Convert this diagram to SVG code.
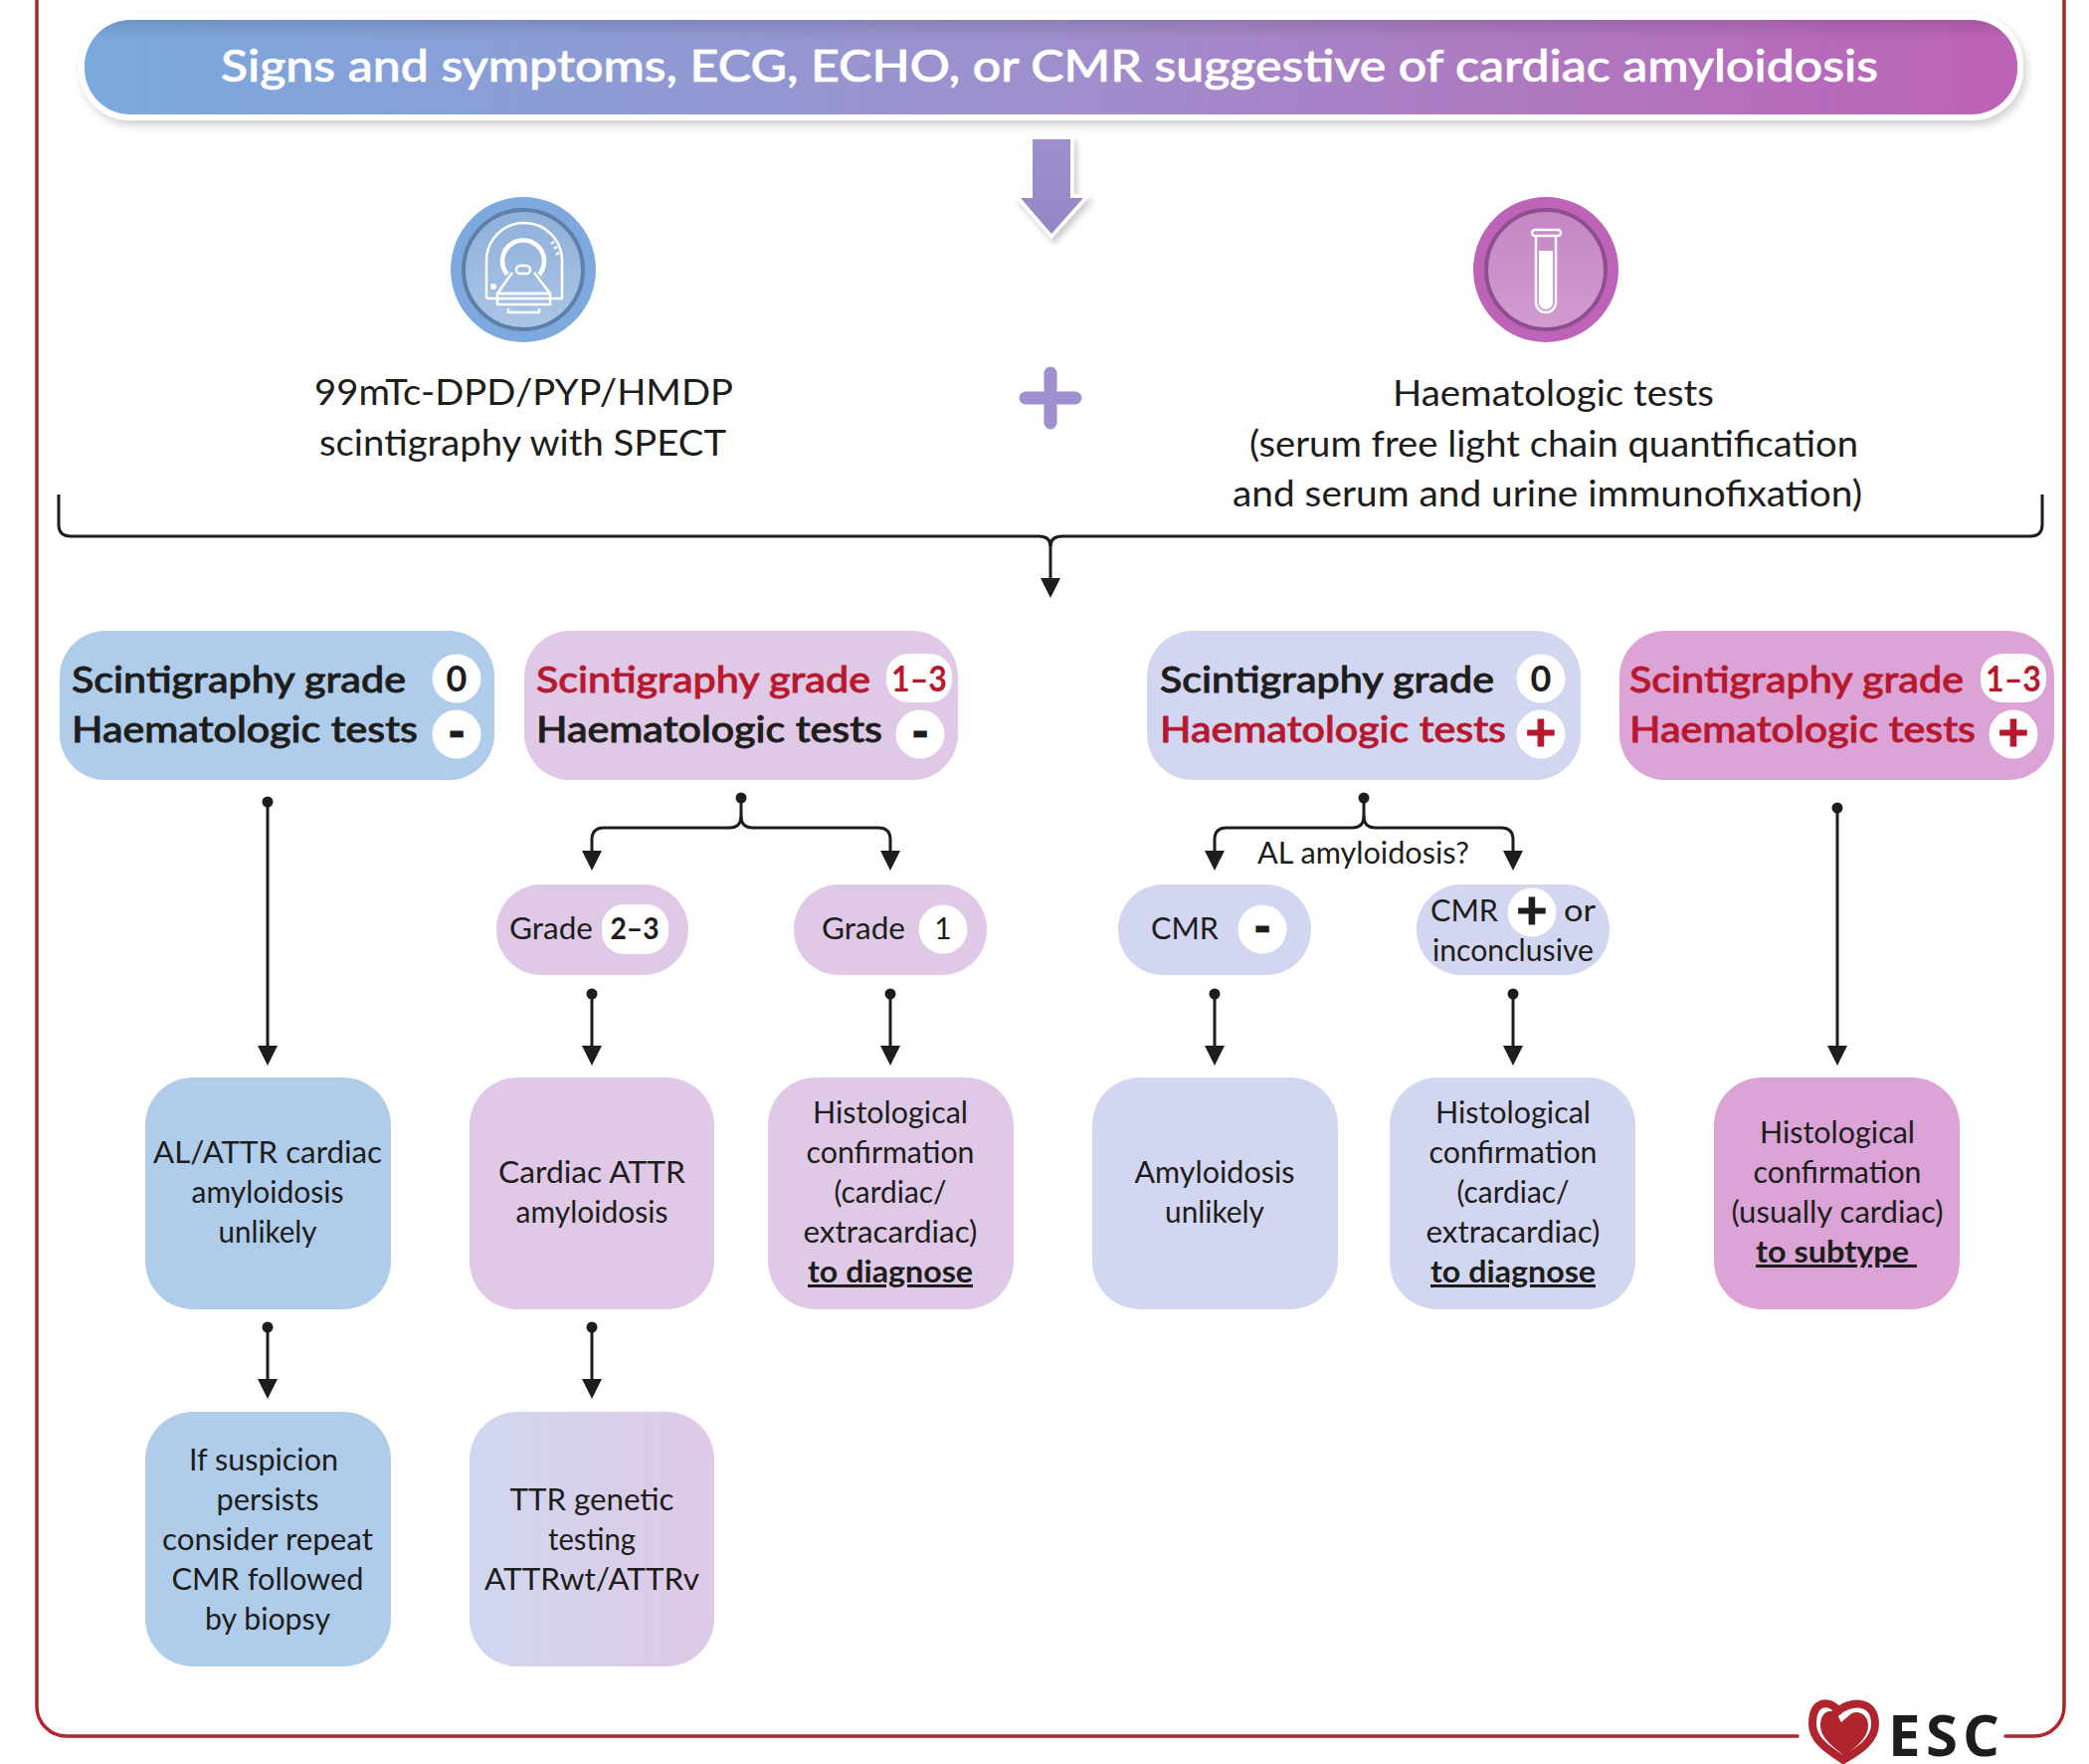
<svg xmlns="http://www.w3.org/2000/svg" width="2100" height="1773" viewBox="0 0 2100 1773">
<style>
text{font-family:"Lato","Liberation Sans",sans-serif;fill:#1d1d1b;text-anchor:middle}
.h{font-size:37px}
.b{font-size:30px}
.g{font-size:36px;font-weight:500;text-anchor:start;stroke:#1d1d1b;stroke-width:.8}
.r{fill:#b7182e}
.g.r{stroke:#b7182e}
.bold{font-weight:700}
.u{text-decoration:underline}
.mk{font-weight:700;stroke:#1d1d1b;stroke-width:2.5}
.mk.r{stroke:#b7182e}
.pl{font-size:54px;stroke-width:1.2}
.mi{font-size:42px}
.c{fill:none;stroke:#1d1d1b;stroke-width:3;stroke-linejoin:round}
.a{marker-start:url(#dot);marker-end:url(#arr)}
.e{marker-end:url(#arr)}
.w{fill:#fff}
.ic{fill:none;stroke:#fff;stroke-width:2.5;stroke-linejoin:round}
.n1{fill:#b0cceb}.n2{fill:#dfc9e6}.n3{fill:#d2d6f0}.n4{fill:#dba3d6}
</style>
<defs>
<linearGradient id="hg"><stop offset="0" stop-color="#7aa9de"/><stop offset=".5" stop-color="#9f8fcc"/><stop offset="1" stop-color="#bd62b6"/></linearGradient>
<linearGradient id="tb" x1="0" y1="0" x2="0" y2="1"><stop offset="0" stop-color="#000" stop-opacity=".12"/><stop offset=".2" stop-color="#000" stop-opacity="0"/></linearGradient>
<linearGradient id="ar" x1="0" y1="0" x2="0" y2="1"><stop offset="0" stop-color="#a08fcd"/><stop offset="1" stop-color="#9486c6"/></linearGradient>
<linearGradient id="bb" x1="0" y1="0" x2="0" y2="1"><stop offset="0" stop-color="#8fb0da"/><stop offset="1" stop-color="#abc5e6"/></linearGradient>
<linearGradient id="pb" x1="0" y1="0" x2="0" y2="1"><stop offset="0" stop-color="#c387c4"/><stop offset="1" stop-color="#d29bd0"/></linearGradient>
<linearGradient id="ml"><stop offset="0" stop-color="#d0d7f0"/><stop offset="1" stop-color="#dfc9e6"/></linearGradient>
<filter id="sh" x="-5%" y="-20%" width="110%" height="150%"><feDropShadow dx="3" dy="5" stdDeviation="4" flood-color="#000" flood-opacity=".18"/></filter>
<filter id="sa" x="-40%" y="-20%" width="180%" height="150%"><feDropShadow dx="3" dy="5" stdDeviation="3" flood-color="#000" flood-opacity=".2"/></filter>
<marker id="arr" markerUnits="userSpaceOnUse" markerWidth="20" markerHeight="20" viewBox="0 0 20 20" refX="2" refY="10" orient="auto"><path d="M0 0L20 10L0 20Z" fill="#1d1d1b"/></marker>
<marker id="dot" markerUnits="userSpaceOnUse" markerWidth="12" markerHeight="12" viewBox="0 0 12 12" refX="6" refY="6"><circle cx="6" cy="6" r="5.5" fill="#1d1d1b"/></marker>
</defs>
<rect width="2100" height="1773" fill="#fff"/>
<g id="frame"><path d="M37 0V1715A30 30 0 0 0 67 1745H1807M2016 1745H2045A30 30 0 0 0 2075 1715V0" fill="none" stroke="#b0242e" stroke-width="3.5" stroke-linecap="round"/></g>
<g id="header"><rect x="85" y="20" width="1943" height="95" rx="46" fill="url(#hg)" stroke="#fff" stroke-width="12" paint-order="stroke" filter="url(#sh)"/><rect x="85" y="20" width="1943" height="95" rx="46" fill="url(#tb)"/><text x="1055" y="82" font-size="45" font-weight="500" style="fill:#fff;stroke:#fff;stroke-width:.7" textLength="1666" lengthAdjust="spacingAndGlyphs">Signs and symptoms, ECG, ECHO, or CMR suggestive of cardiac amyloidosis</text></g>
<g id="down-arrow"><path d="M1038 140H1076V199H1089L1057 235L1026 199H1038Z" fill="url(#ar)" stroke="#fff" stroke-width="7" paint-order="stroke" filter="url(#sa)"/></g>
<g id="scintigraphy-icon"><circle cx="526" cy="271" r="73" fill="#7da9de"/><circle cx="526" cy="271" r="60" fill="url(#bb)" stroke="#5d7fa8" stroke-width="4"/>
<path class="ic" d="M489 300V262A38 38 0 0 1 565 262V300H553M500 300H489"/><path class="ic" style="stroke-width:4.5" d="M510 276A21 21 0 1 1 542 276"/><rect class="ic" x="519" y="267" width="14" height="8" rx="4"/><path class="ic" d="M515 274L500 295H553L537 274"/><rect class="ic" x="500" y="295" width="53" height="11"/><path class="ic" d="M500 300H553M511 310V314H542V310M554 245L557 243M557 250L560 248M559 256L562 254"/><circle cx="496" cy="288" r="3" class="w"/></g>
<g id="haematologic-icon"><circle cx="1554" cy="271" r="73" fill="#bd64b8"/><circle cx="1554" cy="271" r="60" fill="url(#pb)" stroke="#8e4f8e" stroke-width="4"/>
<path class="ic" d="M1544 237V304A10 10 0 0 0 1564 304V237"/><rect class="ic" x="1540" y="231" width="29" height="6" rx="3"/><path class="w" d="M1547 252H1561V304A7 7 0 0 1 1547 304Z"/></g>
<g id="scintigraphy-label"><text class="h" x="526.500" y="407" textLength="421" lengthAdjust="spacingAndGlyphs">99mTc-DPD/PYP/HMDP</text><text class="h" x="525.500" y="458" textLength="409" lengthAdjust="spacingAndGlyphs">scintigraphy with SPECT</text></g>
<g id="plus"><path d="M1056 375V425M1031 400H1081" fill="none" stroke="#a08fd0" stroke-width="13" stroke-linecap="round"/></g>
<g id="haematologic-label"><text class="h" x="1561.500" y="408" textLength="323" lengthAdjust="spacingAndGlyphs">Haematologic tests</text><text class="h" x="1562" y="459" textLength="612" lengthAdjust="spacingAndGlyphs">(serum free light chain quantification</text><text class="h" x="1555.500" y="509" textLength="633" lengthAdjust="spacingAndGlyphs">and serum and urine immunofixation)</text></g>
<g id="connectors">
<path class="c e" d="M59 497V527Q59 539 71 539H1044Q1056 539 1056 549V583"/><path class="c" d="M2053 497V527Q2053 539 2041 539H1068Q1056 539 1056 549"/>
<path class="c a" d="M269 806V1053"/>
<path class="c a" d="M745 802V820Q745 832 733 832H607Q595 832 595 844V857"/><path class="c e" d="M745 820Q745 832 757 832H883Q895 832 895 844V857"/>
<path class="c a" d="M1371 802V820Q1371 832 1359 832H1233Q1221 832 1221 844V857"/><path class="c e" d="M1371 820Q1371 832 1383 832H1509Q1521 832 1521 844V857"/>
<path class="c a" d="M595 999V1053"/><path class="c a" d="M895 999V1053"/><path class="c a" d="M1221 999V1053"/><path class="c a" d="M1521 999V1053"/>
<path class="c a" d="M1847 812V1053"/><path class="c a" d="M269 1334V1388"/><path class="c a" d="M595 1334V1388"/>
</g>
<g id="grade0-neg"><rect class="n1" x="60" y="634" width="437" height="150" rx="46"/><text class="g" x="72" y="696" textLength="336" lengthAdjust="spacingAndGlyphs">Scintigraphy grade</text><text class="g" x="72" y="746" textLength="348" lengthAdjust="spacingAndGlyphs">Haematologic tests</text><circle class="w" cx="459" cy="682" r="24.500"/><circle class="w" cx="459" cy="738" r="24.500"/><text class="bold" x="459" y="695" font-size="36">0</text><text class="mk mi" x="459" y="751">-</text></g>
<g id="grade13-neg"><rect class="n2" x="527" y="634" width="436" height="150" rx="46"/><text class="g r" x="539" y="696" textLength="336" lengthAdjust="spacingAndGlyphs">Scintigraphy grade</text><text class="g" x="539" y="746" textLength="348" lengthAdjust="spacingAndGlyphs">Haematologic tests</text><rect class="w" x="891" y="657" width="66" height="49" rx="22"/><circle class="w" cx="925" cy="738" r="24.500"/><text class="bold r" x="924" y="695" font-size="36" textLength="56" lengthAdjust="spacingAndGlyphs">1–3</text><text class="mk mi" x="925" y="751">-</text></g>
<g id="grade0-pos"><rect class="n3" x="1153" y="634" width="436" height="150" rx="46"/><text class="g" x="1166" y="696" textLength="336" lengthAdjust="spacingAndGlyphs">Scintigraphy grade</text><text class="g r" x="1166" y="746" textLength="348" lengthAdjust="spacingAndGlyphs">Haematologic tests</text><circle class="w" cx="1549" cy="682" r="24.500"/><circle class="w" cx="1549" cy="738" r="24.500"/><text class="bold" x="1549" y="695" font-size="36">0</text><text class="mk pl r" x="1549" y="755">+</text></g>
<g id="grade13-pos"><rect class="n4" x="1628" y="634" width="437" height="150" rx="46"/><text class="g r" x="1638" y="696" textLength="336" lengthAdjust="spacingAndGlyphs">Scintigraphy grade</text><text class="g r" x="1638" y="746" textLength="348" lengthAdjust="spacingAndGlyphs">Haematologic tests</text><rect class="w" x="1991" y="657" width="66" height="49" rx="22"/><circle class="w" cx="2024" cy="738" r="24.500"/><text class="bold r" x="2024" y="695" font-size="36" textLength="56" lengthAdjust="spacingAndGlyphs">1–3</text><text class="mk pl r" x="2024" y="755">+</text></g>
<g id="grade23"><rect class="n2" x="499" y="889" width="193" height="91" rx="45"/><text class="b" x="554" y="944" textLength="84" lengthAdjust="spacingAndGlyphs">Grade</text><rect class="w" x="605" y="909" width="67" height="50" rx="22"/><text class="b bold" x="638" y="944" textLength="49" lengthAdjust="spacingAndGlyphs">2–3</text></g>
<g id="grade1"><rect class="n2" x="798" y="889" width="194" height="91" rx="45"/><text class="b" x="868" y="944" textLength="84" lengthAdjust="spacingAndGlyphs">Grade</text><circle class="w" cx="948" cy="934" r="24.500"/><text class="b" x="948" y="944">1</text></g>
<g id="cmr-neg"><rect class="n3" x="1124" y="889" width="194" height="91" rx="45"/><text class="b" x="1191" y="944" textLength="68" lengthAdjust="spacingAndGlyphs">CMR</text><circle class="w" cx="1269" cy="934" r="24.500"/><text class="mk mi" x="1269" y="947">-</text></g>
<g id="cmr-pos"><rect class="n3" x="1424" y="889" width="194" height="91" rx="45"/><text class="b" x="1472" y="926" textLength="68" lengthAdjust="spacingAndGlyphs">CMR</text><circle class="w" cx="1540" cy="917" r="24.500"/><text class="mk pl" x="1540" y="934">+</text><text class="b" x="1588" y="926" textLength="32" lengthAdjust="spacingAndGlyphs">or</text><text class="b" x="1521" y="966" textLength="162" lengthAdjust="spacingAndGlyphs">inconclusive</text></g>
<g id="al-question"><text class="b" x="1370.500" y="868" textLength="213" lengthAdjust="spacingAndGlyphs">AL amyloidosis?</text></g>
<g id="res-unlikely"><rect class="n1" x="146" y="1083" width="247" height="233" rx="48"/><text class="b" x="269" y="1169" textLength="230" lengthAdjust="spacingAndGlyphs">AL/ATTR cardiac</text><text class="b" x="269" y="1209" textLength="153" lengthAdjust="spacingAndGlyphs">amyloidosis</text><text class="b" x="269" y="1249" textLength="99" lengthAdjust="spacingAndGlyphs">unlikely</text></g>
<g id="res-attr"><rect class="n2" x="472" y="1083" width="246" height="233" rx="48"/><text class="b" x="595" y="1189" textLength="188" lengthAdjust="spacingAndGlyphs">Cardiac ATTR</text><text class="b" x="595" y="1229" textLength="153" lengthAdjust="spacingAndGlyphs">amyloidosis</text></g>
<g id="res-histo1"><rect class="n2" x="772" y="1083" width="247" height="233" rx="48"/><text class="b" x="895" y="1129" textLength="156" lengthAdjust="spacingAndGlyphs">Histological</text><text class="b" x="895" y="1169" textLength="169" lengthAdjust="spacingAndGlyphs">confirmation</text><text class="b" x="895" y="1209" textLength="113" lengthAdjust="spacingAndGlyphs">(cardiac/</text><text class="b" x="895" y="1249" textLength="175" lengthAdjust="spacingAndGlyphs">extracardiac)</text><text class="b bold u" x="895" y="1289" textLength="166" lengthAdjust="spacingAndGlyphs">to diagnose</text></g>
<g id="res-amy"><rect class="n3" x="1098" y="1083" width="247" height="233" rx="48"/><text class="b" x="1221" y="1189" textLength="161" lengthAdjust="spacingAndGlyphs">Amyloidosis</text><text class="b" x="1221" y="1229" textLength="100" lengthAdjust="spacingAndGlyphs">unlikely</text></g>
<g id="res-histo2"><rect class="n3" x="1397" y="1083" width="247" height="233" rx="48"/><text class="b" x="1521" y="1129" textLength="156" lengthAdjust="spacingAndGlyphs">Histological</text><text class="b" x="1521" y="1169" textLength="169" lengthAdjust="spacingAndGlyphs">confirmation</text><text class="b" x="1521" y="1209" textLength="113" lengthAdjust="spacingAndGlyphs">(cardiac/</text><text class="b" x="1521" y="1249" textLength="175" lengthAdjust="spacingAndGlyphs">extracardiac)</text><text class="b bold u" x="1521" y="1289" textLength="166" lengthAdjust="spacingAndGlyphs">to diagnose</text></g>
<g id="res-histo3"><rect class="n4" x="1723" y="1083" width="247" height="233" rx="48"/><text class="b" x="1847" y="1149" textLength="156" lengthAdjust="spacingAndGlyphs">Histological</text><text class="b" x="1847" y="1189" textLength="169" lengthAdjust="spacingAndGlyphs">confirmation</text><text class="b" x="1847" y="1229" textLength="213" lengthAdjust="spacingAndGlyphs">(usually cardiac)</text><text class="b bold u" x="1846" y="1269" textLength="162" lengthAdjust="spacingAndGlyphs">to subtype&#160;</text></g>
<g id="res-repeat"><rect class="n1" x="146" y="1419" width="247" height="256" rx="48"/><text class="b" x="265" y="1478" textLength="150" lengthAdjust="spacingAndGlyphs">If suspicion</text><text class="b" x="269" y="1518" textLength="103" lengthAdjust="spacingAndGlyphs">persists</text><text class="b" x="269" y="1558" textLength="212" lengthAdjust="spacingAndGlyphs">consider repeat</text><text class="b" x="269" y="1598" textLength="193" lengthAdjust="spacingAndGlyphs">CMR followed</text><text class="b" x="269" y="1638" textLength="126" lengthAdjust="spacingAndGlyphs">by biopsy</text></g>
<g id="res-ttr"><rect x="472" y="1419" width="246" height="256" rx="48" fill="url(#ml)"/><text class="b" x="595" y="1518" textLength="165" lengthAdjust="spacingAndGlyphs">TTR genetic</text><text class="b" x="595" y="1558" textLength="88" lengthAdjust="spacingAndGlyphs">testing</text><text class="b" x="595" y="1598" textLength="216" lengthAdjust="spacingAndGlyphs">ATTRwt/ATTRv</text></g>
<g id="esc-logo"><path d="M1848 1720C1840 1708 1822 1708 1822 1733C1822 1750 1840 1760 1853 1769C1868 1760 1885 1750 1885 1733C1885 1708 1860 1708 1845 1722" fill="none" stroke="#b0242e" stroke-width="8" stroke-linecap="round"/><path d="M1846 1722C1836 1716 1830 1724 1830 1734C1830 1748 1845 1757 1854 1765C1864 1757 1878 1748 1878 1734C1878 1722 1865 1717 1858 1725L1851 1731Z" fill="#b0242e"/><text x="1898 1936 1973" y="1765" font-size="58" style="font-family:'Open Sans','Liberation Sans',sans-serif;font-weight:700;text-anchor:start">ESC</text></g>
</svg>
